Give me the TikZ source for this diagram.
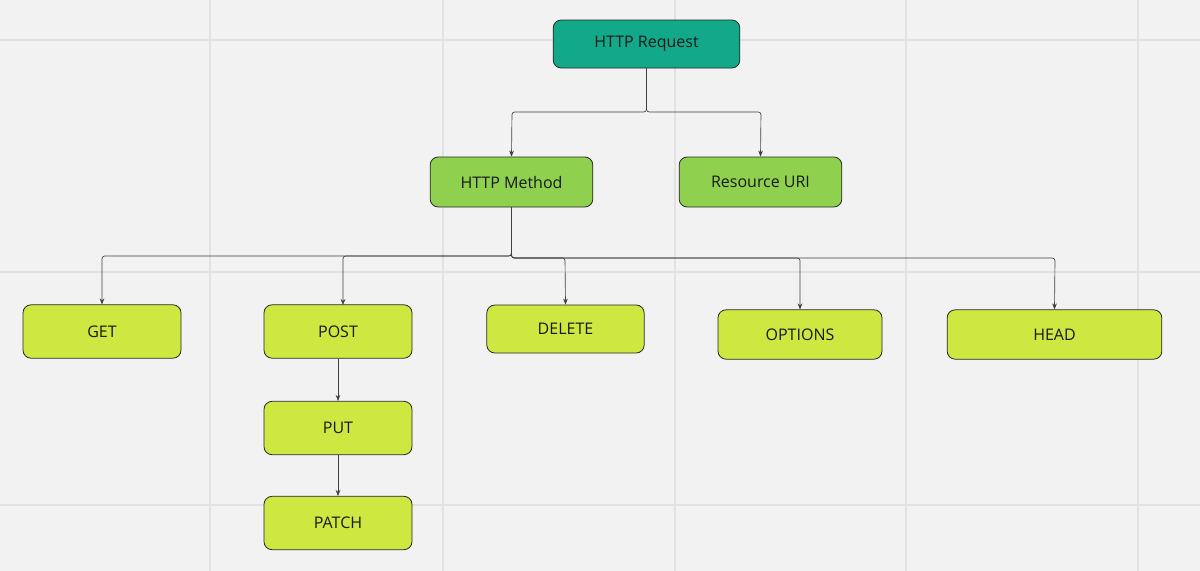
\documentclass[tikz,border=0pt]{standalone}
\usepackage{fontspec}
\setmainfont{Open Sans}
\usetikzlibrary{arrows.meta}
\definecolor{bg}{HTML}{F2F2F2}
\definecolor{gridc}{HTML}{E2E2E2}
\definecolor{teal}{HTML}{12A98A}
\definecolor{lgreen}{HTML}{8FD14F}
\definecolor{lime}{HTML}{CEE741}
\begin{document}
\begin{tikzpicture}[x=0.75pt,y=-0.75pt,
  box/.style={draw=black!85,line width=0.6pt,rounded corners=6pt,font=\fontsize{12}{14}\selectfont,text=black!90},
  conn/.style={draw=black!75,line width=0.5pt,rounded corners=2pt,-{Stealth[length=4.5pt,width=3.5pt]}}]
\fill[bg] (0,0) rectangle (1200,571);
\useasboundingbox (0,0) rectangle (1200,571);
\foreach \x in {210,443,675,906,1138} \draw[gridc,line width=1.2pt] (\x,0) -- (\x,571);
\foreach \y in {40,272,505} \draw[gridc,line width=1.2pt] (0,\y) -- (1200,\y);
\newcommand{\bx}[6]{\node[box,fill=#6,minimum width={(#4-#2)*0.75pt},minimum height={(#5-#3)*0.75pt}] (#1) at ({(#2+#4)/2},{(#3+#5)/2}) {\strut #1};}
\node[box,fill=teal,minimum width=140pt,minimum height=36pt] (req) at (646.5,44) {HTTP Request};
\node[box,fill=lgreen,minimum width=122pt,minimum height=37.5pt] (meth) at (511.5,182) {HTTP Method};
\node[box,fill=lgreen,minimum width=122pt,minimum height=37.5pt] (uri) at (760.5,182) {Resource URI};
\node[box,fill=lime,minimum width=118.5pt,minimum height=40pt] (get) at (102,331.5) {GET};
\node[box,fill=lime,minimum width=111pt,minimum height=40pt] (post) at (338,331.5) {POST};
\node[box,fill=lime,minimum width=118pt,minimum height=36pt] (del) at (565.5,329) {DELETE};
\node[box,fill=lime,minimum width=123pt,minimum height=37pt] (opt) at (800,334.5) {OPTIONS};
\node[box,fill=lime,minimum width=161pt,minimum height=37pt] (head) at (1054.5,334.5) {HEAD};
\node[box,fill=lime,minimum width=111pt,minimum height=40pt] (put) at (338,428) {PUT};
\node[box,fill=lime,minimum width=111pt,minimum height=40pt] (patch) at (338,523) {PATCH};
\draw[conn] (req.south) |- (512,112) -- (meth.north);
\draw[conn] (req.south) |- (761,112) -- (uri.north);
\draw[conn] (meth.south) |- (102,256) -- (get.north);
\draw[conn] (meth.south) |- (343,256) -- (343,305);
\draw[conn] (meth.south) |- (565,258) -- (del.north);
\draw[conn] (meth.south) |- (800,258) -- (opt.north);
\draw[conn] (meth.south) |- (1055,258) -- (head.north);
\draw[conn] (post) -- (put);
\draw[conn] (put) -- (patch);
\end{tikzpicture}
\end{document}
